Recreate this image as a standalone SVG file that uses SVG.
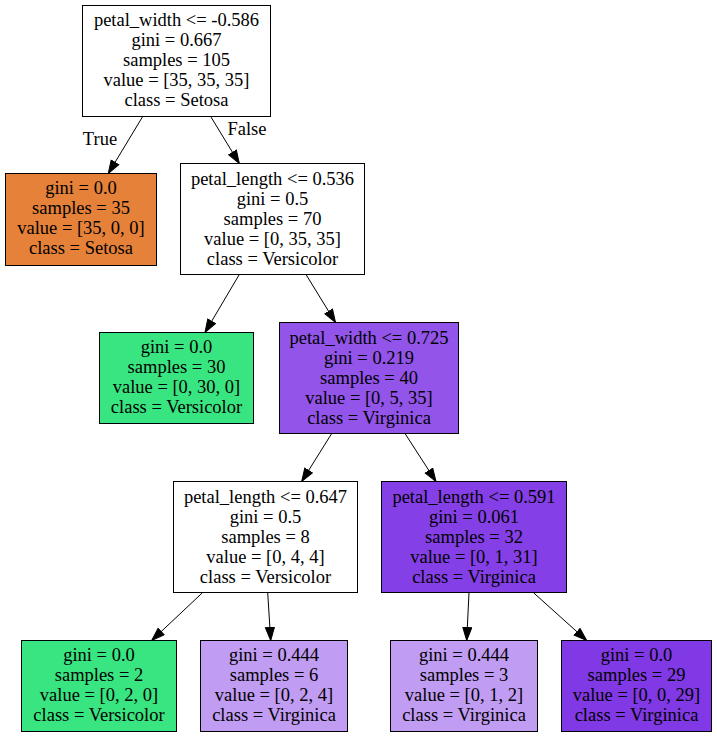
<svg xmlns="http://www.w3.org/2000/svg" width="717" height="736" viewBox="0 0 717 736">
<style>
  .n rect { stroke: #000; stroke-width: 1; }
  .n text, .lbl { font-family: "Liberation Serif", "Times New Roman", serif; font-size: 18.5px; fill: #000; text-anchor: middle; }
  .e line { stroke: #000; stroke-width: 1; marker-end: url(#arr); }
</style>
<defs>
  <marker id="arr" markerUnits="userSpaceOnUse" markerWidth="15" markerHeight="11" refX="13.5" refY="5" orient="auto">
    <path d="M0.5,0.5 L13.5,5 L0.5,9.5 Z" fill="#000" stroke="#000" stroke-width="1"/>
  </marker>
</defs>
<rect width="717" height="736" fill="#fff"/>
<g id="edges" class="e">
  <line x1="142.7" y1="116.5" x2="108.3" y2="173.5"/>
  <line x1="210.7" y1="116.5" x2="239.3" y2="163.5"/>
  <line x1="239.3" y1="274.5" x2="205" y2="332.5"/>
  <line x1="306" y1="274.5" x2="335.5" y2="322.5"/>
  <line x1="331.7" y1="433.5" x2="301.7" y2="481.5"/>
  <line x1="405" y1="433.5" x2="436" y2="481.5"/>
  <line x1="202.7" y1="592.5" x2="151.7" y2="640.5"/>
  <line x1="267.7" y1="592.5" x2="270.7" y2="640.5"/>
  <line x1="469" y1="592.5" x2="466.7" y2="640.5"/>
  <line x1="533.3" y1="592.5" x2="586.7" y2="640.5"/>
  <text class="lbl" x="100" y="145">True</text>
  <text class="lbl" x="247" y="135">False</text>
</g>
<g id="node0" class="n">
  <rect x="82.5" y="5.5" width="188" height="111" fill="#ffffff"/>
  <text x="176.5" y="26">petal_width &lt;= -0.586</text>
  <text x="176.5" y="46">gini = 0.667</text>
  <text x="176.5" y="66">samples = 105</text>
  <text x="176.5" y="86">value = [35, 35, 35]</text>
  <text x="176.5" y="106">class = Setosa</text>
</g>
<g id="node1" class="n">
  <rect x="5.5" y="173.5" width="151" height="92" fill="#e58139"/>
  <text x="81" y="194">gini = 0.0</text>
  <text x="81" y="214">samples = 35</text>
  <text x="81" y="234">value = [35, 0, 0]</text>
  <text x="81" y="254">class = Setosa</text>
</g>
<g id="node2" class="n">
  <rect x="180.5" y="163.5" width="184" height="111" fill="#ffffff"/>
  <text x="272.5" y="185">petal_length &lt;= 0.536</text>
  <text x="272.5" y="205">gini = 0.5</text>
  <text x="272.5" y="225">samples = 70</text>
  <text x="272.5" y="245">value = [0, 35, 35]</text>
  <text x="272.5" y="265">class = Versicolor</text>
</g>
<g id="node3" class="n">
  <rect x="99.5" y="332.5" width="154" height="91" fill="#39e581"/>
  <text x="176.5" y="353">gini = 0.0</text>
  <text x="176.5" y="373">samples = 30</text>
  <text x="176.5" y="393">value = [0, 30, 0]</text>
  <text x="176.5" y="413">class = Versicolor</text>
</g>
<g id="node4" class="n">
  <rect x="279.5" y="322.5" width="179" height="111" fill="#9254e9"/>
  <text x="369" y="344">petal_width &lt;= 0.725</text>
  <text x="369" y="364">gini = 0.219</text>
  <text x="369" y="384">samples = 40</text>
  <text x="369" y="404">value = [0, 5, 35]</text>
  <text x="369" y="424">class = Virginica</text>
</g>
<g id="node5" class="n">
  <rect x="173.5" y="481.5" width="184" height="111" fill="#ffffff"/>
  <text x="265.5" y="503">petal_length &lt;= 0.647</text>
  <text x="265.5" y="523">gini = 0.5</text>
  <text x="265.5" y="543">samples = 8</text>
  <text x="265.5" y="563">value = [0, 4, 4]</text>
  <text x="265.5" y="583">class = Versicolor</text>
</g>
<g id="node6" class="n">
  <rect x="381.5" y="481.5" width="185" height="111" fill="#853fe6"/>
  <text x="474" y="503">petal_length &lt;= 0.591</text>
  <text x="474" y="523">gini = 0.061</text>
  <text x="474" y="543">samples = 32</text>
  <text x="474" y="563">value = [0, 1, 31]</text>
  <text x="474" y="583">class = Virginica</text>
</g>
<g id="node7" class="n">
  <rect x="21.5" y="640.5" width="155" height="91" fill="#39e581"/>
  <text x="99" y="661">gini = 0.0</text>
  <text x="99" y="681">samples = 2</text>
  <text x="99" y="701">value = [0, 2, 0]</text>
  <text x="99" y="721">class = Versicolor</text>
</g>
<g id="node8" class="n">
  <rect x="200.5" y="640.5" width="147" height="91" fill="#c09cf2"/>
  <text x="274" y="661">gini = 0.444</text>
  <text x="274" y="681">samples = 6</text>
  <text x="274" y="701">value = [0, 2, 4]</text>
  <text x="274" y="721">class = Virginica</text>
</g>
<g id="node9" class="n">
  <rect x="390.5" y="640.5" width="147" height="91" fill="#c09cf2"/>
  <text x="464" y="661">gini = 0.444</text>
  <text x="464" y="681">samples = 3</text>
  <text x="464" y="701">value = [0, 1, 2]</text>
  <text x="464" y="721">class = Virginica</text>
</g>
<g id="node10" class="n">
  <rect x="561.5" y="640.5" width="150" height="91" fill="#8139e5"/>
  <text x="636.5" y="661">gini = 0.0</text>
  <text x="636.5" y="681">samples = 29</text>
  <text x="636.5" y="701">value = [0, 0, 29]</text>
  <text x="636.5" y="721">class = Virginica</text>
</g>
</svg>
